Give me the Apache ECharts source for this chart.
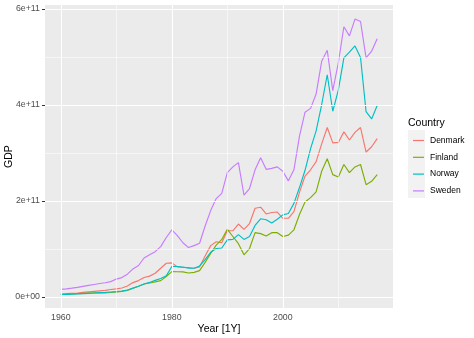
<!DOCTYPE html>
<html>
<head>
<meta charset="utf-8">
<script src="https://cdn.jsdelivr.net/npm/echarts@6/dist/echarts.min.js"></script>
<style>
  html, body { margin: 0; padding: 0; background: #ffffff; }
  #chart { width: 474px; height: 338px; }
</style>
</head>
<body>
<div id="chart"></div>
<script>
// Annual GDP (current US$), 1960–2017
const years = [];
for (let y = 1960; y <= 2017; y++) years.push(y);

const denmark = [6.25, 6.93, 7.81, 8.32, 9.51, 10.6, 11.7, 12.8, 13.7, 15.6,
  17.0, 18.8, 22.8, 30.0, 34.2, 40.5, 43.5, 49.4, 60.0, 70.4,
  71.1, 62.7, 61.4, 61.5, 60.0, 62.7, 85.6, 107, 115, 113,
  138, 138, 152, 141, 153, 185, 187, 173, 176, 177,
  164, 164, 178, 218, 252, 265, 282, 319, 353, 321,
  322, 344, 327, 343, 353, 302, 313, 330];
const finland = [5.22, 5.92, 6.37, 6.86, 7.63, 8.32, 8.96, 8.54, 8.31, 9.49,
  10.6, 11.6, 13.8, 18.1, 22.3, 27.1, 29.3, 31.6, 34.1, 42.8,
  52.8, 52.6, 52.3, 50.0, 51.3, 55.0, 72.1, 90.8, 108, 120,
  141, 126, 111, 88.0, 101, 134, 132, 127, 134, 134,
  126, 129, 140, 172, 198, 207, 219, 262, 288, 255,
  250, 276, 259, 271, 276, 234, 241, 255];
const norway = [5.16, 5.55, 6.01, 6.42, 6.99, 7.66, 8.27, 8.99, 9.59, 10.4,
  11.2, 12.4, 14.6, 18.5, 22.3, 27.0, 30.4, 34.7, 38.7, 44.1,
  63.7, 63.5, 62.6, 60.1, 59.9, 64.6, 77.9, 93.1, 101, 102,
  119, 120, 130, 120, 126, 149, 163, 161, 154, 162,
  171, 174, 195, 228, 264, 309, 346, 401, 463, 387,
  431, 498, 510, 523, 499, 386, 371, 399];
const sweden = [15.8, 17.0, 18.4, 20.0, 22.1, 24.1, 26.1, 28.1, 29.6, 32.0,
  37.3, 40.4, 47.5, 58.5, 65.6, 81.3, 88.1, 94.4, 105, 124,
  140, 128, 113, 103, 107, 112, 148, 180, 205, 216,
  259, 271, 280, 212, 226, 265, 290, 266, 268, 271,
  262, 242, 265, 335, 385, 393, 423, 491, 514, 430,
  488, 563, 544, 579, 574, 498, 512, 538];

const countries = ['Denmark', 'Finland', 'Norway', 'Sweden'];
const colors = ['#F8766D', '#7CAE00', '#00BFC4', '#C77CFF'];
const seriesValues = [denmark, finland, norway, sweden];   // billions of US$

const yBreaks = [0, 2e11, 4e11, 6e11];
const yLabels = ['0e+00', '2e+11', '4e+11', '6e+11'];
const yMinor = [1e11, 3e11, 5e11];
const xBreaks = [1960, 1980, 2000];
const xMinor = [1970, 1990, 2010];

const chart = echarts.init(document.getElementById('chart'), null, { renderer: 'canvas' });

const lineSeries = countries.map((name, i) => ({
  name: name,
  type: 'line',
  z: 3,
  showSymbol: false,
  symbol: 'none',
  lineStyle: { width: 1.15, color: colors[i] },
  itemStyle: { color: colors[i] },
  emphasis: { disabled: true },
  data: years.map((yr, k) => [yr, seriesValues[i][k] * 1e9])
}));

// panel grid lines: thin minor, thicker major, all white
const gridSeries = {
  name: '_grid',
  type: 'line',
  z: 1,
  data: [],
  silent: true,
  markLine: {
    silent: true,
    symbol: 'none',
    label: { show: false },
    animation: false,
    data: [
      ...yMinor.map(v => ({ yAxis: v, lineStyle: { color: '#ffffff', width: 0.55, type: 'solid' } })),
      ...xMinor.map(v => ({ xAxis: v, lineStyle: { color: '#ffffff', width: 0.55, type: 'solid' } })),
      ...yBreaks.map(v => ({ yAxis: v, lineStyle: { color: '#ffffff', width: 1.1, type: 'solid' } })),
      ...xBreaks.map(v => ({ xAxis: v, lineStyle: { color: '#ffffff', width: 1.1, type: 'solid' } }))
    ]
  }
};

const option = {
  animation: false,
  backgroundColor: '#ffffff',
  textStyle: { fontFamily: 'Liberation Sans, Arial, sans-serif' },
  grid: {
    left: 45, right: 81, top: 5, bottom: 30,
    outerBoundsMode: 'none',
    containLabel: false,
    show: true, backgroundColor: '#EBEBEB', borderWidth: 0
  },
  title: {
    text: 'Country',
    left: 403, top: 113,
    textStyle: { fontSize: 10.5, fontWeight: 'normal', color: '#000000', fontFamily: 'Liberation Sans, Arial, sans-serif' }
  },
  legend: {
    data: countries,
    orient: 'vertical',
    left: 408, top: 131,
    icon: 'rect',
    itemWidth: 11, itemHeight: 1.2,
    itemGap: 7.8,
    selectedMode: false,
    textStyle: { fontSize: 8.5, color: '#000000', padding: [0, 0, 0, 1] }
  },
  graphic: [{
    type: 'rect',
    left: 408, top: 130,
    shape: { width: 17, height: 68 },
    style: { fill: '#F2F2F2' },
    z: -1,
    silent: true
  }],
  xAxis: {
    type: 'value',
    min: 1957.15, max: 2019.85,
    name: 'Year [1Y]',
    nameLocation: 'middle',
    nameGap: 16,
    nameMoveOverlap: false,
    nameTextStyle: { fontSize: 10.5, color: '#000000' },
    axisLine: { show: false },
    axisTick: { show: true, length: 3, lineStyle: { color: '#333333', width: 1 }, customValues: xBreaks },
    axisLabel: { fontSize: 8.8, color: '#4D4D4D', margin: 5, customValues: xBreaks, formatter: v => String(v) },
    splitLine: { show: false }
  },
  yAxis: {
    type: 'value',
    min: -0.229e11, max: 6.083e11,
    name: 'GDP',
    nameLocation: 'middle',
    nameGap: 30,
    nameMoveOverlap: false,
    nameRotate: 90,
    nameTextStyle: { fontSize: 10.5, color: '#000000' },
    axisLine: { show: false },
    axisTick: { show: true, length: 3, lineStyle: { color: '#333333', width: 1 }, customValues: yBreaks },
    axisLabel: {
      fontSize: 8.8, color: '#4D4D4D', margin: 5, customValues: yBreaks,
      formatter: v => yLabels[yBreaks.indexOf(v)] ?? ''
    },
    splitLine: { show: false }
  },
  series: [gridSeries, ...lineSeries]
};

chart.setOption(option);
</script>
</body>
</html>
